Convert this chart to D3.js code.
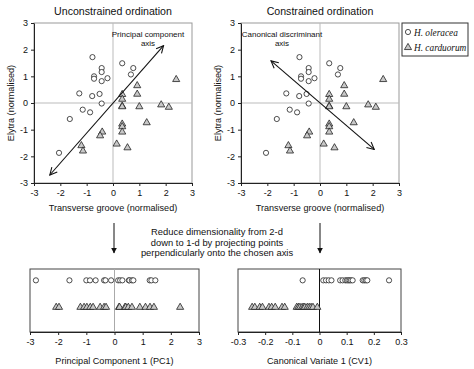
<!DOCTYPE html>
<html>
<head>
<meta charset="utf-8">
<script src="https://cdn.jsdelivr.net/npm/d3@7"></script>
<style>
  body { margin: 0; background: #fff; }
  svg text { font-family: "Liberation Sans", Arial, sans-serif; fill: #111; }
  .tick text { font-size: 9px; }
  .title { font-size: 10.6px; }
  .axis-title { font-size: 9.1px; }
  .mid-note { font-size: 9.4px; }
  .note { font-size: 8px; }
  .legend-text { font-family: "Liberation Serif", "Times New Roman", serif; font-style: italic; font-size: 9.3px; }
</style>
</head>
<body>
<div id="chart"></div>
<script>
// H. oleracea (circles) in the raw 2-d space
const oleraceaX = [-0.78, 0.35, 0.77, -0.43, -0.43, 0.68, -0.72, -0.72, -0.21, -0.43, -1.28, -0.79, -0.51, -0.43, -1.15, -0.87, -1.64, -2.05];
const oleraceaY = [1.72, 1.49, 1.31, 1.31, 1.16, 1.07, 1.0, 0.91, 0.93, 0.82, 0.36, 0.26, 0.34, -0.02, -0.25, -0.35, -0.6, -1.87];
// H. carduorum (triangles)
const carduorumX = [2.40, 0.92, 0.92, 0.35, 0.35, 0.35, 0.35, 1.0, 1.83, 2.12, 1.28, 0.35, 0.35, 0.35, -0.41, -0.49, 0.14, -1.2, -1.14, 0.55];
const carduorumY = [0.90, 0.67, 0.35, 0.34, 0.16, -0.1, -0.12, -0.12, -0.05, -0.14, -0.72, -0.77, -0.87, -1.07, -1.07, -1.21, -1.52, -1.58, -1.78, -1.66];

// scores along the chosen axes
const oleraceaPC1 = [-2.79, -1.6, -1.0, -0.87, -0.67, -0.37, -0.32, -0.12, 0.13, 0.2, 0.28, 0.51, 0.53, 0.62, 0.67, 1.25, 1.31, 1.45];
const carduorumPC1 = [-2.07, -1.97, -1.21, -1.08, -0.98, -0.86, -0.76, -0.51, -0.37, -0.3, 0.16, 0.18, 0.37, 0.4, 0.49, 0.62, 0.9, 1.1, 1.26, 1.4, 2.33];
const oleraceaCV1 = [-0.062, 0.014, 0.024, 0.034, 0.044, 0.076, 0.085, 0.095, 0.101, 0.106, 0.111, 0.116, 0.122, 0.159, 0.165, 0.171, 0.176, 0.256];
const carduorumCV1 = [-0.248, -0.238, -0.22, -0.21, -0.186, -0.176, -0.163, -0.138, -0.128, -0.084, -0.078, -0.072, -0.064, -0.058, -0.054, -0.045, -0.038, -0.031, -0.024, -0.008];

// arrow end points in data units
const pcAxis = [[-2.4, -2.7], [1.92, 2.15]];
const cdAxis = [[-1.86, 1.58], [2.06, -1.74]];

const ticks2d = [-3, -2, -1, 0, 1, 2, 3];
const ticksCV = [-0.3, -0.2, -0.1, 0, 0.1, 0.2, 0.3];
const noteLines = ["Reduce dimensionality from 2-d", "down to 1-d by projecting points", "perpendicularly onto the chosen axis"];

const svg = d3.select("#chart").append("svg").attr("width", 474).attr("height", 369);

const defs = svg.append("defs");
defs.append("marker").attr("id", "open").attr("viewBox", "0 0 10 10")
  .attr("refX", 9).attr("refY", 5).attr("markerWidth", 9).attr("markerHeight", 9)
  .attr("orient", "auto-start-reverse").attr("markerUnits", "userSpaceOnUse")
  .append("path").attr("d", "M1,1 L9,5 L1,9").attr("fill", "none").attr("stroke", "#111").attr("stroke-width", 1.2);
defs.append("marker").attr("id", "solid").attr("viewBox", "0 0 10 10")
  .attr("refX", 9).attr("refY", 5).attr("markerWidth", 6).attr("markerHeight", 6)
  .attr("orient", "auto").attr("markerUnits", "userSpaceOnUse")
  .append("path").attr("d", "M0,0 L10,5 L0,10 Z").attr("fill", "#111");

const tri = d3.symbol().type(d3.symbolTriangle).size(22);
const plain = d => String(d); // hyphen minus, no decimals

function circles(g, xs, ys, x, y) {
  g.append("g").selectAll("circle").data(xs).join("circle")
    .attr("cx", d => x(d)).attr("cy", (d, i) => y(ys[i]))
    .attr("r", 2.6).attr("fill", "#fff").attr("stroke", "#222").attr("stroke-width", 0.8);
}
function triangles(g, xs, ys, x, y) {
  g.append("g").selectAll("path").data(xs).join("path")
    .attr("d", tri)
    .attr("transform", (d, i) => `translate(${x(d)},${y(ys[i]) + 0.5})`)
    .attr("fill", "#c8c8c8").attr("stroke", "#222").attr("stroke-width", 0.8);
}

function scatter(x0, title, arrow, noteText, noteX) {
  const x = d3.scaleLinear().domain([-3, 3]).range([x0, x0 + 158]);
  const y = d3.scaleLinear().domain([-3, 3]).range([183, 23]);
  const g = svg.append("g");

  // frame + zero lines
  g.append("rect").attr("x", x(-3)).attr("y", y(3)).attr("width", x(3) - x(-3)).attr("height", y(-3) - y(3))
    .attr("fill", "none").attr("stroke", "#999");
  g.append("line").attr("x1", x(0)).attr("x2", x(0)).attr("y1", y(3)).attr("y2", y(-3)).attr("stroke", "#bbb");
  g.append("line").attr("x1", x(-3)).attr("x2", x(3)).attr("y1", y(0)).attr("y2", y(0)).attr("stroke", "#bbb");

  g.append("g").attr("transform", `translate(0,${y(-3)})`)
    .call(d3.axisBottom(x).tickValues(ticks2d).tickFormat(plain).tickSize(3).tickPadding(4).tickSizeOuter(0))
    .call(a => a.selectAll("line, path").attr("stroke", "#222"));
  g.append("g").attr("transform", `translate(${x(-3)},0)`)
    .call(d3.axisLeft(y).tickValues(ticks2d).tickFormat(plain).tickSize(3).tickPadding(3).tickSizeOuter(0))
    .call(a => a.selectAll("line, path").attr("stroke", "#222"));

  circles(g, oleraceaX, oleraceaY, x, y);
  triangles(g, carduorumX, carduorumY, x, y);

  g.append("line")
    .attr("x1", x(arrow[0][0])).attr("y1", y(arrow[0][1]))
    .attr("x2", x(arrow[1][0])).attr("y2", y(arrow[1][1]))
    .attr("stroke", "#111").attr("stroke-width", 1.1)
    .attr("marker-start", "url(#open)").attr("marker-end", "url(#open)");

  g.append("text").attr("class", "note").attr("x", noteX).attr("y", 37).attr("text-anchor", "middle").text(noteText[0]);
  g.append("text").attr("class", "note").attr("x", noteX).attr("y", 46).attr("text-anchor", "middle").text(noteText[1]);

  g.append("text").attr("class", "title").attr("x", x(0)).attr("y", 15).attr("text-anchor", "middle").text(title);
  g.append("text").attr("class", "axis-title").attr("x", x(0)).attr("y", 211).attr("text-anchor", "middle")
    .text("Transverse groove (normalised)");
  g.append("text").attr("class", "axis-title").attr("transform", `translate(${x(-3) - 20.5},${y(0)}) rotate(-90)`)
    .attr("text-anchor", "middle").text("Elytra (normalised)");
}

scatter(34, "Unconstrained ordination", pcAxis, ["Principal component", "axis"], 148);
scatter(241, "Constrained ordination", cdAxis, ["Canonical discriminant", "axis"], 282);

// legend
const lg = svg.append("g");
lg.append("rect").attr("x", 402).attr("y", 23).attr("width", 66).attr("height", 33)
  .attr("fill", "#fff").attr("stroke", "#333");
lg.append("circle").attr("cx", 408).attr("cy", 32).attr("r", 2.6).attr("fill", "#fff").attr("stroke", "#222").attr("stroke-width", 0.8);
lg.append("path").attr("d", tri).attr("transform", "translate(408,47.5)").attr("fill", "#c8c8c8").attr("stroke", "#222").attr("stroke-width", 0.8);
lg.append("text").attr("class", "legend-text").attr("x", 414).attr("y", 35.5).text("H. oleracea");
lg.append("text").attr("class", "legend-text").attr("x", 414).attr("y", 50.5).text("H. carduorum");

// down arrows and note
[114, 320].forEach(ax => {
  svg.append("line").attr("x1", ax).attr("x2", ax).attr("y1", 223).attr("y2", 253)
    .attr("stroke", "#111").attr("stroke-width", 1).attr("marker-end", "url(#solid)");
});
noteLines.forEach((t, i) => {
  svg.append("text").attr("class", "mid-note").attr("x", 217).attr("y", 235 + i * 10.5)
    .attr("text-anchor", "middle").text(t);
});

function strip(x, oleracea, carduorum, ticks, fmt, zeroColor, label) {
  const y = d3.scaleLinear().domain([0, 1]).range([332, 269]);
  const g = svg.append("g");
  const [r0, r1] = x.range();
  g.append("rect").attr("x", r0).attr("y", y(1)).attr("width", r1 - r0).attr("height", y(0) - y(1))
    .attr("fill", "none").attr("stroke", "#444");
  g.append("line").attr("x1", x(0)).attr("x2", x(0)).attr("y1", y(1)).attr("y2", y(0)).attr("stroke", zeroColor);
  g.append("g").attr("transform", `translate(0,${y(0)})`)
    .call(d3.axisBottom(x).tickValues(ticks).tickFormat(fmt).tickSize(3).tickPadding(4).tickSizeOuter(0))
    .call(a => a.selectAll("line, path").attr("stroke", "#222"));
  circles(g, oleracea, oleracea.map(() => 0.82), x, y);
  triangles(g, carduorum, carduorum.map(() => 0.4), x, y);
  g.append("text").attr("class", "axis-title").attr("x", x(0)).attr("y", 364).attr("text-anchor", "middle").text(label);
}

strip(d3.scaleLinear().domain([-3, 3]).range([30, 199]), oleraceaPC1, carduorumPC1, ticks2d, plain, "#aaa",
  "Principal Component 1 (PC1)");
strip(d3.scaleLinear().domain([-0.3, 0.3]).range([238, 401]), oleraceaCV1, carduorumCV1, ticksCV,
  d => d === 0 ? "0" : d3.format(".1f")(d).replace("\u2212", "-"), "#111", "Canonical Variate 1 (CV1)");
</script>
</body>
</html>
